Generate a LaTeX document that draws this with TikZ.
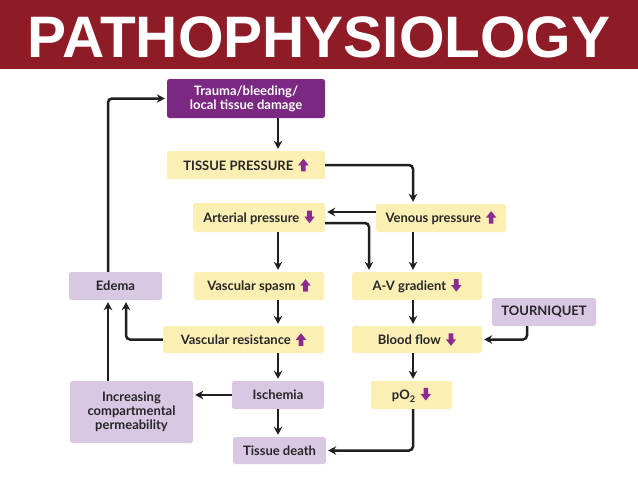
\documentclass[tikz,border=0pt]{standalone}
\usepackage{fontspec}
\setmainfont{Lato}
\newfontfamily\hdrfont{Liberation Sans}
\usetikzlibrary{arrows.meta,calc}
\definecolor{hdr}{HTML}{8E1B26}
\definecolor{dpur}{HTML}{7B2882}
\definecolor{yel}{HTML}{FBEFB4}
\definecolor{lav}{HTML}{D9C8E3}
\definecolor{mk}{HTML}{8A2B8F}
\definecolor{txt}{HTML}{262626}
\newcommand{\upmk}{\tikz[baseline=1pt,x=1pt,y=1pt,sharp corners]\fill[mk] (-2.3,0) -- (2.3,0) -- (2.3,6) -- (5.2,6) -- (0,12.5) -- (-5.2,6) -- (-2.3,6) -- cycle;}
\newcommand{\dnmk}{\tikz[baseline=1pt,x=1pt,y=1pt,sharp corners]\fill[mk] (-2.3,12.5) -- (2.3,12.5) -- (2.3,6.5) -- (5.2,6.5) -- (0,0) -- (-5.2,6.5) -- (-2.3,6.5) -- cycle;}
\tikzset{
  bx/.style={rounded corners=2.5pt, inner sep=0pt, text=txt, font=\bfseries\fontsize{13}{13.8}\selectfont, align=center, minimum height=28pt},
  yl/.style={bx, fill=yel},
  lv/.style={bx, fill=lav},
  dk/.style={bx, fill=dpur, text=white},
  arr/.style={draw=black!88, line width=2.5pt, -{Stealth[length=8pt,width=8.5pt]}, rounded corners=4pt, shorten >=2pt},
}
\begin{document}
\begin{tikzpicture}[x=1pt,y=-1pt]
\useasboundingbox (0,0) rectangle (638,479);
\fill[white] (0,0) rectangle (638,479);
\fill[hdr] (0,0) rectangle (638,69);
\node[text=white, font=\hdrfont\bfseries\fontsize{58.5}{60}\selectfont, inner sep=0pt] (title) at (319,37) {PATHOPHYSIOLOGY};

\node[dk, minimum width=158pt, minimum height=39pt] (trauma) at (246,98.5) {Trauma/bleeding/\\local tissue damage};
\node[yl, minimum width=158pt] (tissue) at (246,165) {TISSUE PRESSURE\hspace{5pt}\upmk};
\node[yl, minimum width=132pt, minimum height=29pt] (arterial) at (259,217.5) {Arterial pressure\hspace{5pt}\dnmk};
\node[yl, minimum width=130pt] (venous) at (441,218) {Venous pressure\hspace{5pt}\upmk};
\node[yl, minimum width=130pt] (spasm) at (259,286) {Vascular spasm\hspace{5pt}\upmk};
\node[yl, minimum width=130pt] (av) at (417,286) {A-V gradient\hspace{5pt}\dnmk};
\node[lv, minimum width=93pt] (edema) at (115.5,286) {Edema};
\node[yl, minimum width=161pt, minimum height=27pt] (resist) at (243.5,339.5) {Vascular resistance\hspace{5pt}\upmk};
\node[yl, minimum width=130pt, minimum height=27pt] (blood) at (417,339.5) {Blood flow\hspace{5pt}\dnmk};
\node[lv, minimum width=104pt] (tourn) at (544,312) {TOURNIQUET};
\node[lv, minimum width=123pt, minimum height=62pt] (incr) at (131.5,412) {Increasing\\compartmental\\permeability};
\node[lv, minimum width=92pt] (isch) at (278,395) {Ischemia};
\node[yl, minimum width=81pt] (po2) at (411.5,395) {pO\textsubscript{2}\hspace{5pt}\dnmk};
\node[lv, minimum width=93pt, minimum height=27pt] (death) at (279.5,450.5) {Tissue death};

\coordinate (cc) at (278,0);
\coordinate (rc) at (413,0);
\coordinate (vc) at (369,0);
\coordinate (lc) at (108,0);
\coordinate (ec) at (126,0);
\coordinate (tc) at (527,0);

\draw[arr] (trauma.south -| cc) -- (tissue.north -| cc);
\draw[arr] (arterial.south -| cc) -- (spasm.north -| cc);
\draw[arr] (spasm.south -| cc) -- (resist.north -| cc);
\draw[arr] (resist.south -| cc) -- (isch.north -| cc);
\draw[arr] (isch.south -| cc) -- (death.north -| cc);
\draw[arr] (tissue.east) -| (venous.north -| rc);
\coordinate (vw) at ($(venous.west)+(0,-6)$);
\draw[arr] (vw) -- (vw -| arterial.east);
\draw[arr] ($(arterial.east)+(0,5.5)$) -| (av.north -| vc);
\draw[arr] (venous.south -| rc) -- (av.north -| rc);
\draw[arr] (av.south -| rc) -- (blood.north -| rc);
\draw[arr] (blood.south -| rc) -- (po2.north -| rc);
\draw[arr] (po2.south -| rc) |- (death.east);
\draw[arr] (tourn.south -| tc) |- (blood.east);
\draw[arr] (resist.west) -| (edema.south -| ec);
\draw[arr] (isch.west) -- (incr.east |- isch.west);
\draw[arr] (incr.north -| lc) -- (edema.south -| lc);
\draw[arr] (edema.north -| lc) |- (trauma.west);
\end{tikzpicture}
\end{document}
